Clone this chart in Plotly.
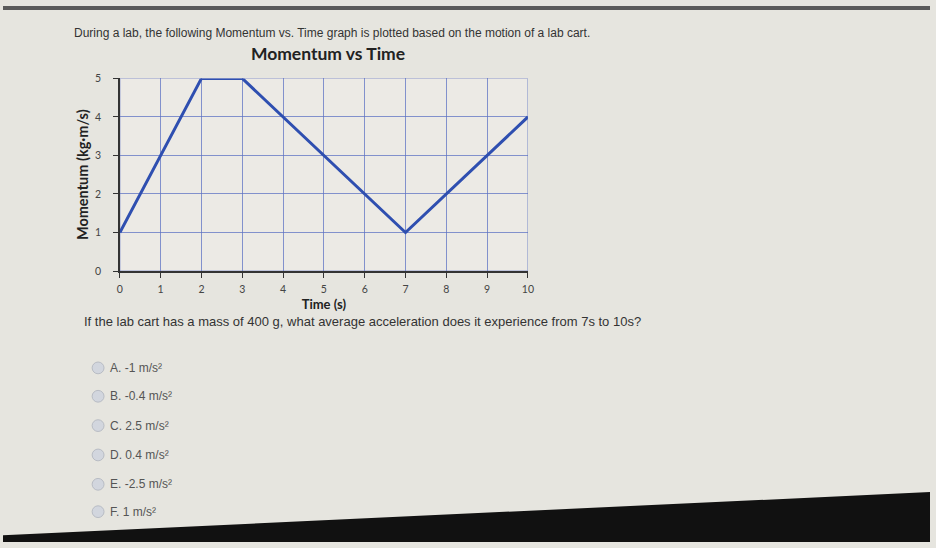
import plotly.graph_objects as go

# Data
time_s = [0, 2, 3, 7, 10]
momentum = [1, 5, 5, 1, 4]
x_ticks = [0, 1, 2, 3, 4, 5, 6, 7, 8, 9, 10]
y_ticks = [0, 1, 2, 3, 4, 5]

header = "During a lab, the following Momentum vs. Time graph is plotted based on the motion of a lab cart."
question = "If the lab cart has a mass of 400 g, what average acceleration does it experience from 7s to 10s?"
options = ["A. -1 m/s²", "B. -0.4 m/s²", "C. 2.5 m/s²", "D. 0.4 m/s²", "E. -2.5 m/s²", "F. 1 m/s²"]
option_y_px = [370, 399, 429, 459, 489, 517]

W, H = 936, 548
def py(p):
    return 1 - p / H
def px(p):
    return p / W

fig = go.Figure()
fig.add_trace(go.Scatter(
    x=time_s, y=momentum, mode="lines",
    line=dict(color="#2f4fb0", width=3),
    cliponaxis=False, hoverinfo="skip", showlegend=False,
))

grid = "rgba(95,115,195,0.75)"
fig.update_layout(
    width=W, height=H,
    margin=dict(l=0, r=0, t=0, b=0),
    paper_bgcolor="#e6e5df",
    plot_bgcolor="#eceae5",
    showlegend=False,
    title=dict(text="<b>Momentum vs Time</b>", x=px(328), xanchor="center",
               y=py(54), yanchor="middle",
               font=dict(family="Lato, Open Sans, sans-serif", size=17.5, color="#222")),
    xaxis=dict(
        domain=[px(118), px(530)], range=[0, 10],
        tickmode="array", tickvals=x_ticks,
        showgrid=True, gridcolor=grid, gridwidth=1,
        showline=True, linecolor="#333", linewidth=1.5,
        ticks="outside", ticklen=5, tickcolor="#333",
        ticklabelstandoff=3,
        tickfont=dict(family="Lato, sans-serif", size=10.5, color="#444"),
        zeroline=False, mirror=False,
        title=dict(text="<b>Time (s)</b>", standoff=5,
                   font=dict(family="Lato, sans-serif", size=13, color="#222")),
    ),
    yaxis=dict(
        domain=[py(271), py(74)], range=[0, 5],
        tickmode="array", tickvals=y_ticks,
        showgrid=True, gridcolor=grid, gridwidth=1,
        showline=True, linecolor="#333", linewidth=1.5,
        ticks="outside", ticklen=5, tickcolor="#333",
        ticklabelstandoff=10,
        tickfont=dict(family="Lato, sans-serif", size=10.5, color="#444"),
        zeroline=False,
        title=dict(text="<b>Momentum (kg·m/s)</b>", standoff=3,
                   font=dict(family="Lato, sans-serif", size=14.5, color="#222")),
    ),
)

# Plot box top/right edges
fig.add_shape(type="rect", xref="x", yref="y", x0=0, x1=10, y0=0, y1=5,
              line=dict(color=grid, width=1), layer="below")

text_font = dict(family="Liberation Sans, Arial, sans-serif", color="#333")
fig.add_annotation(text=header, xref="paper", yref="paper", x=px(70), y=py(28),
                   xanchor="left", yanchor="middle", showarrow=False,
                   font=dict(size=12, **text_font))
fig.add_annotation(text=question, xref="paper", yref="paper", x=px(80), y=py(323),
                   xanchor="left", yanchor="middle", showarrow=False,
                   font=dict(size=13, **text_font))
for label, yp in zip(options, option_y_px):
    fig.add_annotation(text=label, xref="paper", yref="paper", x=px(106), y=py(yp),
                       xanchor="left", yanchor="middle", showarrow=False,
                       font=dict(size=12, family="Liberation Sans, Arial, sans-serif", color="#555"))
    r = 6
    fig.add_shape(type="circle", xref="paper", yref="paper",
                  x0=px(96 - r), x1=px(96 + r), y0=py(yp + r), y1=py(yp - r),
                  line=dict(color="#b8bcc4", width=1), fillcolor="#d2d6de")

# Top bezel strip
fig.add_shape(type="rect", xref="paper", yref="paper", x0=0, x1=1, y0=py(4), y1=1,
              line=dict(width=0), fillcolor="#5a5a5a")
# Bottom dark bezel (slanted)
fig.add_shape(type="path", xref="paper", yref="paper",
              path=f"M 0 {py(541)} L 1 {py(497)} L 1 0 L 0 0 Z",
              line=dict(width=0), fillcolor="#111111")

post = (
    "document.documentElement.style.margin='0';"
    "document.body.style.margin='0';"
    "document.body.style.overflow='hidden';"
    "var d=document.querySelector('.plotly-graph-div');"
    "d.style.position='fixed';d.style.left='0px';d.style.top='0px';"
)
fig.write_html("out.html", config={"displayModeBar": False}, post_script=post)
